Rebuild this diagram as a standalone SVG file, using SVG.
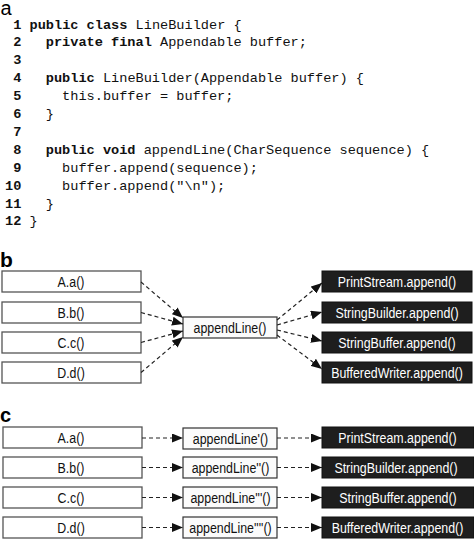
<svg xmlns="http://www.w3.org/2000/svg" width="474" height="540" viewBox="0 0 474 540">
<style>
.code{font-family:"Liberation Mono","DejaVu Sans Mono",monospace;font-size:13.6px;fill:#111;white-space:pre}
.bd{font-weight:bold}
.lbl{font-family:"Liberation Sans",Arial,sans-serif;fill:#000}
.box{fill:#fff;stroke:#555;stroke-width:1.3}
.mid{fill:#fbfbfb;stroke:#333;stroke-width:1.2}
.dark{fill:#1e1e1e;stroke:#111;stroke-width:1}
.t{font-family:"Liberation Sans",Arial,sans-serif;font-size:15.5px;text-anchor:middle;fill:#111}
.tw{fill:#fff}
.conn path{stroke:#222;stroke-width:1.2;stroke-dasharray:4 3;fill:none;marker-end:url(#ah)}
</style>
<defs>
<marker id="ah" markerUnits="userSpaceOnUse" markerWidth="11" markerHeight="9" refX="11" refY="4.5" orient="auto">
<path d="M0,0 L11,4.5 L0,9 z" fill="#111"/>
</marker>
</defs>
<rect width="474" height="540" fill="#fff"/>

<!-- a: code listing -->
<g id="code">
<text class="lbl" x="0.5" y="15" font-size="20">a</text>
<text class="code bd" x="13.2" y="28.5">1</text><text class="code" x="29.5" y="28.5"><tspan class="bd">public class</tspan> LineBuilder {</text>
<text class="code bd" x="13.2" y="46.4">2</text><text class="code" x="45.8" y="46.4"><tspan class="bd">private final</tspan> Appendable buffer;</text>
<text class="code bd" x="13.2" y="64.3">3</text>
<text class="code bd" x="13.2" y="82.2">4</text><text class="code" x="45.8" y="82.2"><tspan class="bd">public</tspan> LineBuilder(Appendable buffer) {</text>
<text class="code bd" x="13.2" y="100.1">5</text><text class="code" x="62.1" y="100.1">this.buffer = buffer;</text>
<text class="code bd" x="13.2" y="118">6</text><text class="code" x="45.8" y="118">}</text>
<text class="code bd" x="13.2" y="135.9">7</text>
<text class="code bd" x="13.2" y="153.8">8</text><text class="code" x="45.8" y="153.8"><tspan class="bd">public void</tspan> appendLine(CharSequence sequence) {</text>
<text class="code bd" x="13.2" y="171.7">9</text><text class="code" x="62.1" y="171.7">buffer.append(sequence);</text>
<text class="code bd" x="5" y="189.6">10</text><text class="code" x="62.1" y="189.6">buffer.append("\n");</text>
<text class="code bd" x="5" y="207.5">11</text><text class="code" x="45.8" y="207.5">}</text>
<text class="code bd" x="5" y="225.4">12</text><text class="code" x="29.5" y="225.4">}</text>
</g>

<!-- b -->
<text class="lbl" x="0" y="267" font-size="21" font-weight="bold">b</text>
<g id="b-Aa"><rect class="box" x="2" y="271" width="139" height="21"/><text class="t" transform="translate(71,286.7) scale(0.8,1)">A.a()</text></g>
<g id="b-Bb"><rect class="box" x="2" y="302" width="139" height="21"/><text class="t" transform="translate(71,317.7) scale(0.8,1)">B.b()</text></g>
<g id="b-Cc"><rect class="box" x="2" y="332" width="139" height="21"/><text class="t" transform="translate(71,347.7) scale(0.8,1)">C.c()</text></g>
<g id="b-Dd"><rect class="box" x="2" y="362" width="139" height="21"/><text class="t" transform="translate(71,377.7) scale(0.8,1)">D.d()</text></g>
<g id="b-appendLine"><rect class="mid" x="183" y="317" width="94" height="21"/><text class="t" transform="translate(230,332.7) scale(0.8,1)">appendLine()</text></g>
<g id="b-PrintStream"><rect class="dark" x="322" y="271" width="150" height="21"/><text class="t tw" transform="translate(397,286.5) scale(0.8,1)">PrintStream.append()</text></g>
<g id="b-StringBuilder"><rect class="dark" x="322" y="302" width="150" height="21"/><text class="t tw" transform="translate(397,317.5) scale(0.8,1)">StringBuilder.append()</text></g>
<g id="b-StringBuffer"><rect class="dark" x="322" y="332" width="150" height="21"/><text class="t tw" transform="translate(397,347.5) scale(0.8,1)">StringBuffer.append()</text></g>
<g id="b-BufferedWriter"><rect class="dark" x="322" y="362" width="150" height="21"/><text class="t tw" transform="translate(397,377.5) scale(0.8,1)">BufferedWriter.append()</text></g>

<!-- c -->
<text class="lbl" x="0" y="422" font-size="20" font-weight="bold">c</text>
<g id="c-Aa"><rect class="box" x="3" y="427" width="139" height="21"/><text class="t" transform="translate(71,442.7) scale(0.8,1)">A.a()</text></g>
<g id="c-Bb"><rect class="box" x="3" y="457" width="139" height="21"/><text class="t" transform="translate(71,472.7) scale(0.8,1)">B.b()</text></g>
<g id="c-Cc"><rect class="box" x="3" y="487" width="139" height="21"/><text class="t" transform="translate(71,502.7) scale(0.8,1)">C.c()</text></g>
<g id="c-Dd"><rect class="box" x="3" y="517" width="139" height="21"/><text class="t" transform="translate(71,532.7) scale(0.8,1)">D.d()</text></g>
<g id="c-appendLine1"><rect class="mid" x="183" y="428" width="94" height="21"/><text class="t" transform="translate(230.5,443.7) scale(0.8,1)">appendLine'()</text></g>
<g id="c-appendLine2"><rect class="mid" x="183" y="457" width="94" height="21"/><text class="t" transform="translate(230.5,472.7) scale(0.8,1)">appendLine''()</text></g>
<g id="c-appendLine3"><rect class="mid" x="183" y="487" width="94" height="21"/><text class="t" transform="translate(230.5,502.7) scale(0.8,1)">appendLine'''()</text></g>
<g id="c-appendLine4"><rect class="mid" x="183" y="517" width="94" height="21"/><text class="t" transform="translate(230.5,532.7) scale(0.8,1)">appendLine''''()</text></g>
<g id="c-PrintStream"><rect class="dark" x="322" y="427" width="152" height="21"/><text class="t tw" transform="translate(397.5,442.5) scale(0.8,1)">PrintStream.append()</text></g>
<g id="c-StringBuilder"><rect class="dark" x="322" y="457" width="152" height="21"/><text class="t tw" transform="translate(396,472.5) scale(0.8,1)">StringBuilder.append()</text></g>
<g id="c-StringBuffer"><rect class="dark" x="322" y="487" width="152" height="21"/><text class="t tw" transform="translate(398,502.5) scale(0.8,1)">StringBuffer.append()</text></g>
<g id="c-BufferedWriter"><rect class="dark" x="322" y="517" width="152" height="21"/><text class="t tw" transform="translate(397.5,532.5) scale(0.8,1)">BufferedWriter.append()</text></g>

<g id="connectors" class="conn">
<path d="M141,282 L183,318"/>
<path d="M141,312.5 L183,324"/>
<path d="M141,342.5 L183,331"/>
<path d="M141,372.5 L183,337"/>
<path d="M277,320 L322,283"/>
<path d="M277,325 L322,312"/>
<path d="M277,330 L322,341"/>
<path d="M277,335 L322,369"/>
<path d="M142,438 L183,438"/>
<path d="M142,467.5 L183,467.5"/>
<path d="M142,497.5 L183,497.5"/>
<path d="M142,527.5 L183,527.5"/>
<path d="M277,438 L322,438"/>
<path d="M277,467.5 L322,467.5"/>
<path d="M277,497.5 L322,497.5"/>
<path d="M277,527.5 L322,527.5"/>
</g>
</svg>
